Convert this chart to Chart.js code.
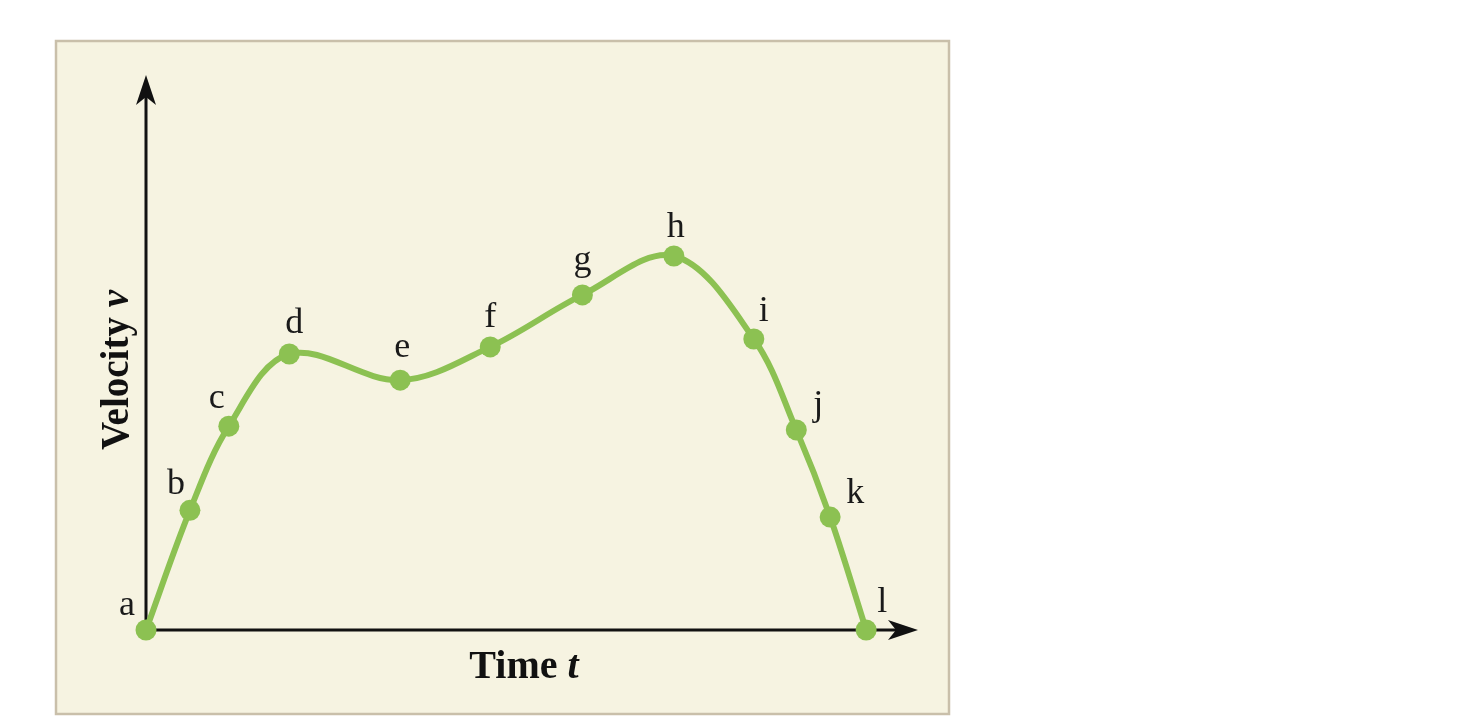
<!DOCTYPE html>
<html>
<head>
<meta charset="utf-8">
<title>Velocity vs Time</title>
<script src="https://cdn.jsdelivr.net/npm/chart.js@4/dist/chart.umd.min.js"></script>
<style>
  html, body { margin: 0; padding: 0; background: #ffffff; }
  #wrap { position: relative; width: 1474px; height: 720px; }
</style>
</head>
<body>
<div id="wrap"><canvas id="chart" width="1474" height="720"></canvas></div>
<script>
// Points along the curve (time in arbitrary units, velocity in arbitrary units)
const pointLabels = ['a', 'b', 'c', 'd', 'e', 'f', 'g', 'h', 'i', 'j', 'k', 'l'];
const timeValues = [0, 0.61, 1.15, 1.99, 3.53, 4.78, 6.06, 7.33, 8.44, 9.03, 9.5, 10];
const velocityValues = [0, 3.2, 5.45, 7.38, 6.68, 7.57, 8.96, 10, 7.78, 5.35, 3.02, 0];
const xAxisTitle = 'Time ';
const xAxisSymbol = 't';
const yAxisTitle = 'Velocity ';
const yAxisSymbol = 'v';

const GREEN = '#8cc152';
const SERIF = '"Liberation Serif", "DejaVu Serif", serif';

// label placement relative to each point: [dx, dy to baseline]
const labelOffsets = [[-19, -15], [-14, -16], [-12, -18], [5, -21], [2, -23], [0, -20],
                      [0, -25], [2, -19], [10, -18], [22, -15], [25, -14], [16, -18]];

const boxPlugin = {
    id: 'box',
    beforeDraw: (chart) => {
        const ctx = chart.ctx;
        ctx.save();
        ctx.fillStyle = '#f6f3e1';
        ctx.fillRect(55, 40, 895, 675);
        ctx.strokeStyle = '#c9bfaa';
        ctx.lineWidth = 2.5;
        ctx.strokeRect(56, 41, 893, 673);
        ctx.restore();
    },
    beforeDatasetsDraw: (chart) => {
        const ctx = chart.ctx;
        const x = chart.scales.x, y = chart.scales.y;
        const x0 = x.getPixelForValue(0), y0 = y.getPixelForValue(0);
        const xEnd = x.right, yEnd = y.top;
        ctx.save();
        ctx.strokeStyle = '#111';
        ctx.fillStyle = '#111';
        ctx.lineWidth = 3;
        ctx.beginPath();
        ctx.moveTo(x0, y0);
        ctx.lineTo(x0, yEnd + 12);
        ctx.moveTo(x0, y0);
        ctx.lineTo(xEnd - 12, y0);
        ctx.stroke();
        // arrow heads
        ctx.beginPath();
        ctx.moveTo(x0, yEnd);
        ctx.lineTo(x0 - 10, yEnd + 30);
        ctx.lineTo(x0, yEnd + 22);
        ctx.lineTo(x0 + 10, yEnd + 30);
        ctx.closePath();
        ctx.fill();
        ctx.beginPath();
        ctx.moveTo(xEnd, y0);
        ctx.lineTo(xEnd - 30, y0 - 10);
        ctx.lineTo(xEnd - 22, y0);
        ctx.lineTo(xEnd - 30, y0 + 10);
        ctx.closePath();
        ctx.fill();

        // axis titles
        ctx.textBaseline = 'alphabetic';
        ctx.font = 'bold 40px ' + SERIF;
        const w1 = ctx.measureText(xAxisTitle).width;
        ctx.font = 'bold italic 40px ' + SERIF;
        const w2 = ctx.measureText(xAxisSymbol).width;
        let sx = (x0 + xEnd) / 2 - 8 - (w1 + w2) / 2;
        ctx.textAlign = 'left';
        ctx.font = 'bold 40px ' + SERIF;
        ctx.fillText(xAxisTitle, sx, y0 + 48);
        ctx.font = 'bold italic 40px ' + SERIF;
        ctx.fillText(xAxisSymbol, sx + w1, y0 + 48);

        ctx.translate(x0 - 18, 370);
        ctx.rotate(-Math.PI / 2);
        ctx.font = 'bold 39px ' + SERIF;
        const v1 = ctx.measureText(yAxisTitle).width;
        ctx.font = 'bold italic 39px ' + SERIF;
        const v2 = ctx.measureText(yAxisSymbol).width;
        const vx = -(v1 + v2) / 2;
        ctx.font = 'bold 39px ' + SERIF;
        ctx.fillText(yAxisTitle, vx, 0);
        ctx.font = 'bold italic 39px ' + SERIF;
        ctx.fillText(yAxisSymbol, vx + v1, 0);
        ctx.restore();
    },
    afterDatasetsDraw: (chart) => {
        const ctx = chart.ctx;
        const meta = chart.getDatasetMeta(0);
        ctx.save();
        ctx.fillStyle = '#1a1a1a';
        ctx.font = '36px ' + SERIF;
        ctx.textAlign = 'center';
        ctx.textBaseline = 'alphabetic';
        meta.data.forEach((pt, i) => {
            const off = labelOffsets[i];
            ctx.fillText(pointLabels[i], pt.x + off[0], pt.y + off[1]);
        });
        ctx.restore();
    }
};

new Chart(document.getElementById('chart'), {
    type: 'scatter',
    data: {
        datasets: [{
            data: timeValues.map((t, i) => ({ x: t, y: velocityValues[i] })),
            showLine: true,
            borderColor: GREEN,
            borderWidth: 6,
            tension: 0.35,
            pointRadius: 10.5,
            pointBackgroundColor: GREEN,
            pointBorderWidth: 0,
            clip: false
        }]
    },
    options: {
        responsive: false,
        animation: false,
        layout: { padding: { left: 146, right: 556, top: 75, bottom: 90 } },
        plugins: { legend: { display: false }, tooltip: { enabled: false } },
        scales: {
            x: { type: 'linear', min: 0, max: 10.72, display: false },
            y: { type: 'linear', min: 0, max: 14.84, display: false }
        }
    },
    plugins: [boxPlugin]
});
</script>
</body>
</html>
